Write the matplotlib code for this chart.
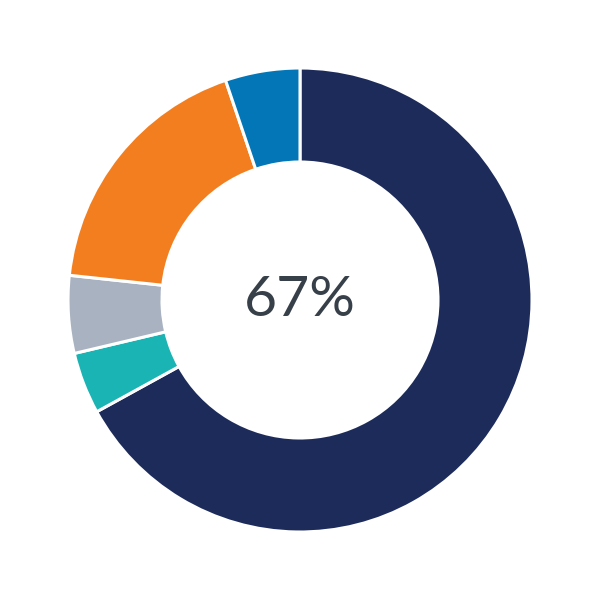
import matplotlib
matplotlib.use('Agg')
from matplotlib import pyplot as plt

# slices, clockwise from 12 o'clock
labels = ['Navy', 'Teal', 'Gray', 'Orange', 'Blue']
values = [67, 4.3, 5.4, 18.1, 5.2]
colors = ['#1c2b5a', '#1ab4b4', '#a9b2c1', '#f37e20', '#0276b6']
center_text = '67%'

fig = plt.figure(figsize=(6, 6), dpi=100)
ax = fig.add_axes([0, 0, 1, 1])
ax.pie(values, colors=colors, startangle=90, counterclock=False,
       radius=232, center=(0, 0),
       wedgeprops=dict(width=94, edgecolor='white', linewidth=2.2))
ax.set_xlim(-300, 300)
ax.set_ylim(-300, 300)
ax.set_aspect('equal')
ax.axis('off')

ax.text(0, 0, center_text, ha='center', va='center', fontsize=41,
        family=['Lato', 'DejaVu Sans'], fontweight='normal', color='#373f49')

fig.savefig('out.png', dpi=100, facecolor='white')
